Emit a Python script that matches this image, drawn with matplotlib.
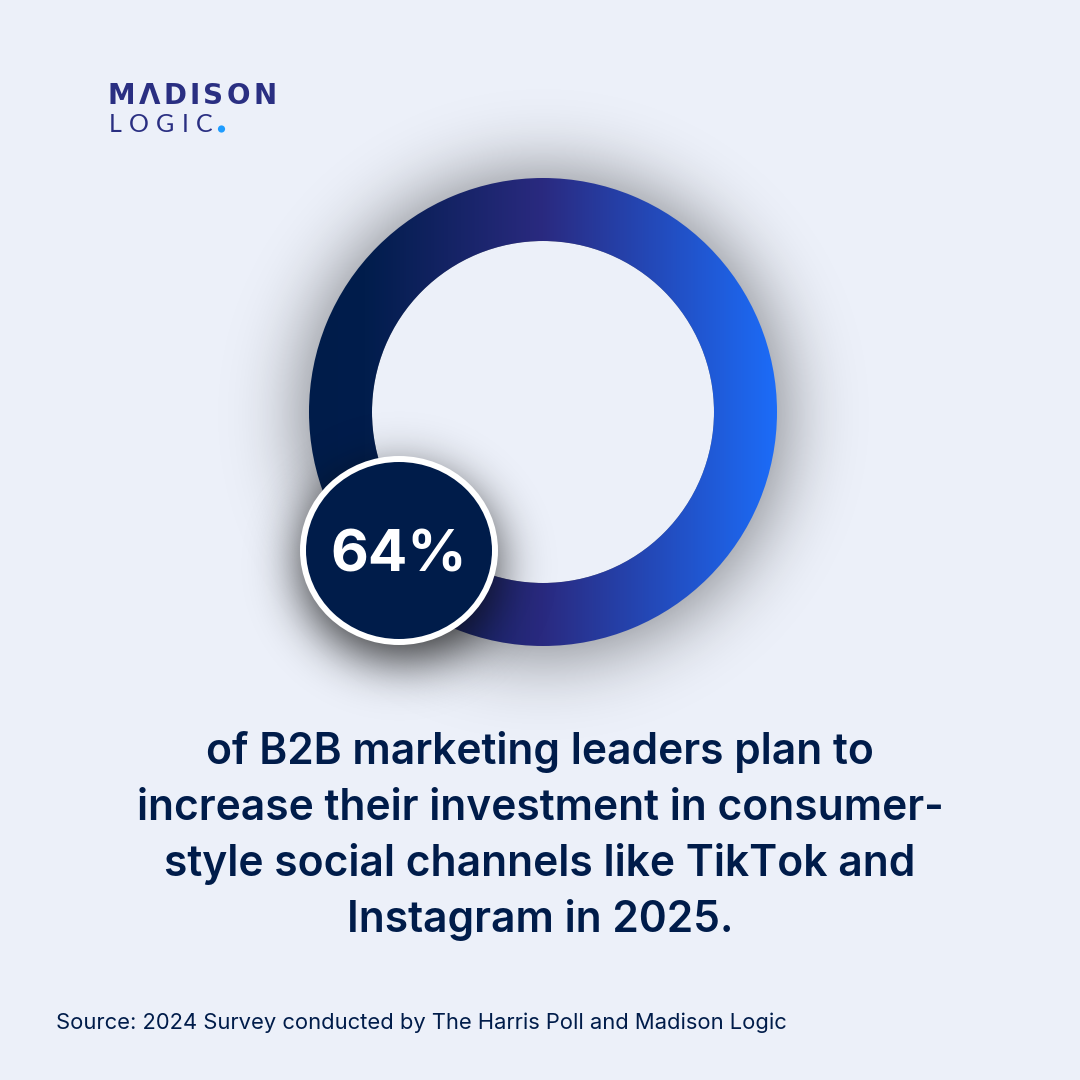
#!/usr/bin/env python
"""Madison Logic 64% donut card."""

import numpy as np
import matplotlib
matplotlib.use("Agg")
import matplotlib.pyplot as plt
from matplotlib.colors import LinearSegmentedColormap
from matplotlib.patches import Circle, Ellipse, Wedge

# data
percent_label = "64%"
ring_share = [100]
caption_lines = [
    "of B2B marketing leaders plan to",
    "increase their investment in consumer-",
    "style social channels like TikTok and",
    "Instagram in 2025.",
]
source_text = "Source: 2024 Survey conducted by The Harris Poll and Madison Logic"
logo_top = "MΛDISON"
logo_bottom = "LOGIC"

BG = "#ecf0f9"
NAVY = "#001c4a"
SIZE = 1080


def blurred_disc(cx, cy, rx, ry, sigma):
    """Gaussian blurred ellipse, built in fourier space."""
    yy, xx = np.mgrid[0:SIZE, 0:SIZE]
    disc = (((xx - cx) / rx) ** 2 + ((yy - cy) / ry) ** 2 <= 1).astype(float)
    fy = np.fft.fftfreq(SIZE)[:, None]
    fx = np.fft.rfftfreq(SIZE)[None, :]
    kernel = np.exp(-2 * (np.pi * sigma) ** 2 * (fx ** 2 + fy ** 2))
    return np.clip(np.fft.irfft2(np.fft.rfft2(disc) * kernel, s=disc.shape), 0, 1)


def draw_shadow(ax, alpha, zorder):
    rgba = np.zeros((SIZE, SIZE, 4))
    rgba[..., :3] = 0.05
    rgba[..., 3] = alpha
    ax.imshow(rgba, extent=(0, SIZE, SIZE, 0), zorder=zorder, interpolation="bilinear")


def spaced_text(ax, x, y, text, gap, **kw):
    """Text does not do tracking, so place it letter by letter."""
    renderer = ax.figure.canvas.get_renderer()
    for ch in text:
        t = ax.text(x, y, ch, ha="left", va="baseline", **kw)
        x += t.get_window_extent(renderer).width + gap


fig = plt.figure(figsize=(10.8, 10.8), dpi=100, facecolor=BG)
ax = fig.add_axes([0, 0, 1, 1])
ax.set_xlim(0, SIZE)
ax.set_ylim(SIZE, 0)
ax.axis("off")

cx, cy = 543, 412
outer, inner = 234, 171

# ring shadow, then the hole gets repainted on top
draw_shadow(ax, 0.46 * blurred_disc(cx, cy + 2, outer + 8, outer + 8, 36), 1)
ax.add_patch(Circle((cx, cy), inner, color=BG, lw=0, zorder=2))

# ring with horizontal gradient, pie wedges give the clip shape
ring_cmap = LinearSegmentedColormap.from_list(
    "ring", [(0, "#001c4a"), (0.12, "#011d4c"), (0.5, "#2a2a80"), (1, "#1c6cf8")])
grad = ax.imshow(np.linspace(0, 1, 512)[None, :], cmap=ring_cmap,
                 extent=(cx - outer, cx + outer, cy + outer, cy - outer),
                 aspect="auto", zorder=3)
wedge = Wedge((cx, cy), outer, 0, 3.6 * ring_share[0], width=outer - inner,
              transform=ax.transData, fc="none", ec="none", zorder=3)
ax.add_patch(wedge)
grad.set_clip_path(wedge)
ax.set_xlim(0, SIZE)
ax.set_ylim(SIZE, 0)

# badge
bx, by = 399, 550.5
draw_shadow(ax, 0.78 * blurred_disc(bx, by + 15, 99, 95, 24), 4)
ax.add_patch(Ellipse((bx, by), 198, 189, color="white", lw=0, zorder=5))
ax.add_patch(Ellipse((bx, by), 186, 177, color=NAVY, lw=0, zorder=6))
ax.text(bx, 572, percent_label, color="white", fontsize=42, family="Inter",
        fontweight="bold", ha="center", va="baseline", zorder=7)

# caption
for base, line in zip([764, 820, 876, 932], caption_lines):
    ax.text(540, base, line, color=NAVY, fontsize=30.6, family="Inter",
            fontweight="semibold", ha="center", va="baseline", zorder=7)

ax.text(56, 1029, source_text, color=NAVY, fontsize=15.8, family="Inter",
        ha="left", va="baseline", zorder=7)

# logo
fig.canvas.draw()
spaced_text(ax, 108, 104, logo_top, 3.2, color="#2a2f82", fontsize=20,
            family="DejaVu Sans", fontweight="bold", zorder=7)
spaced_text(ax, 109, 132, logo_bottom, 7.2, color="#2a2f82", fontsize=18,
            family="Lato", fontweight="normal", zorder=7)
ax.add_patch(Circle((221.5, 129), 3.6, color="#1e9cff", lw=0, zorder=7))

fig.savefig("out.png", dpi=100, facecolor=BG)
